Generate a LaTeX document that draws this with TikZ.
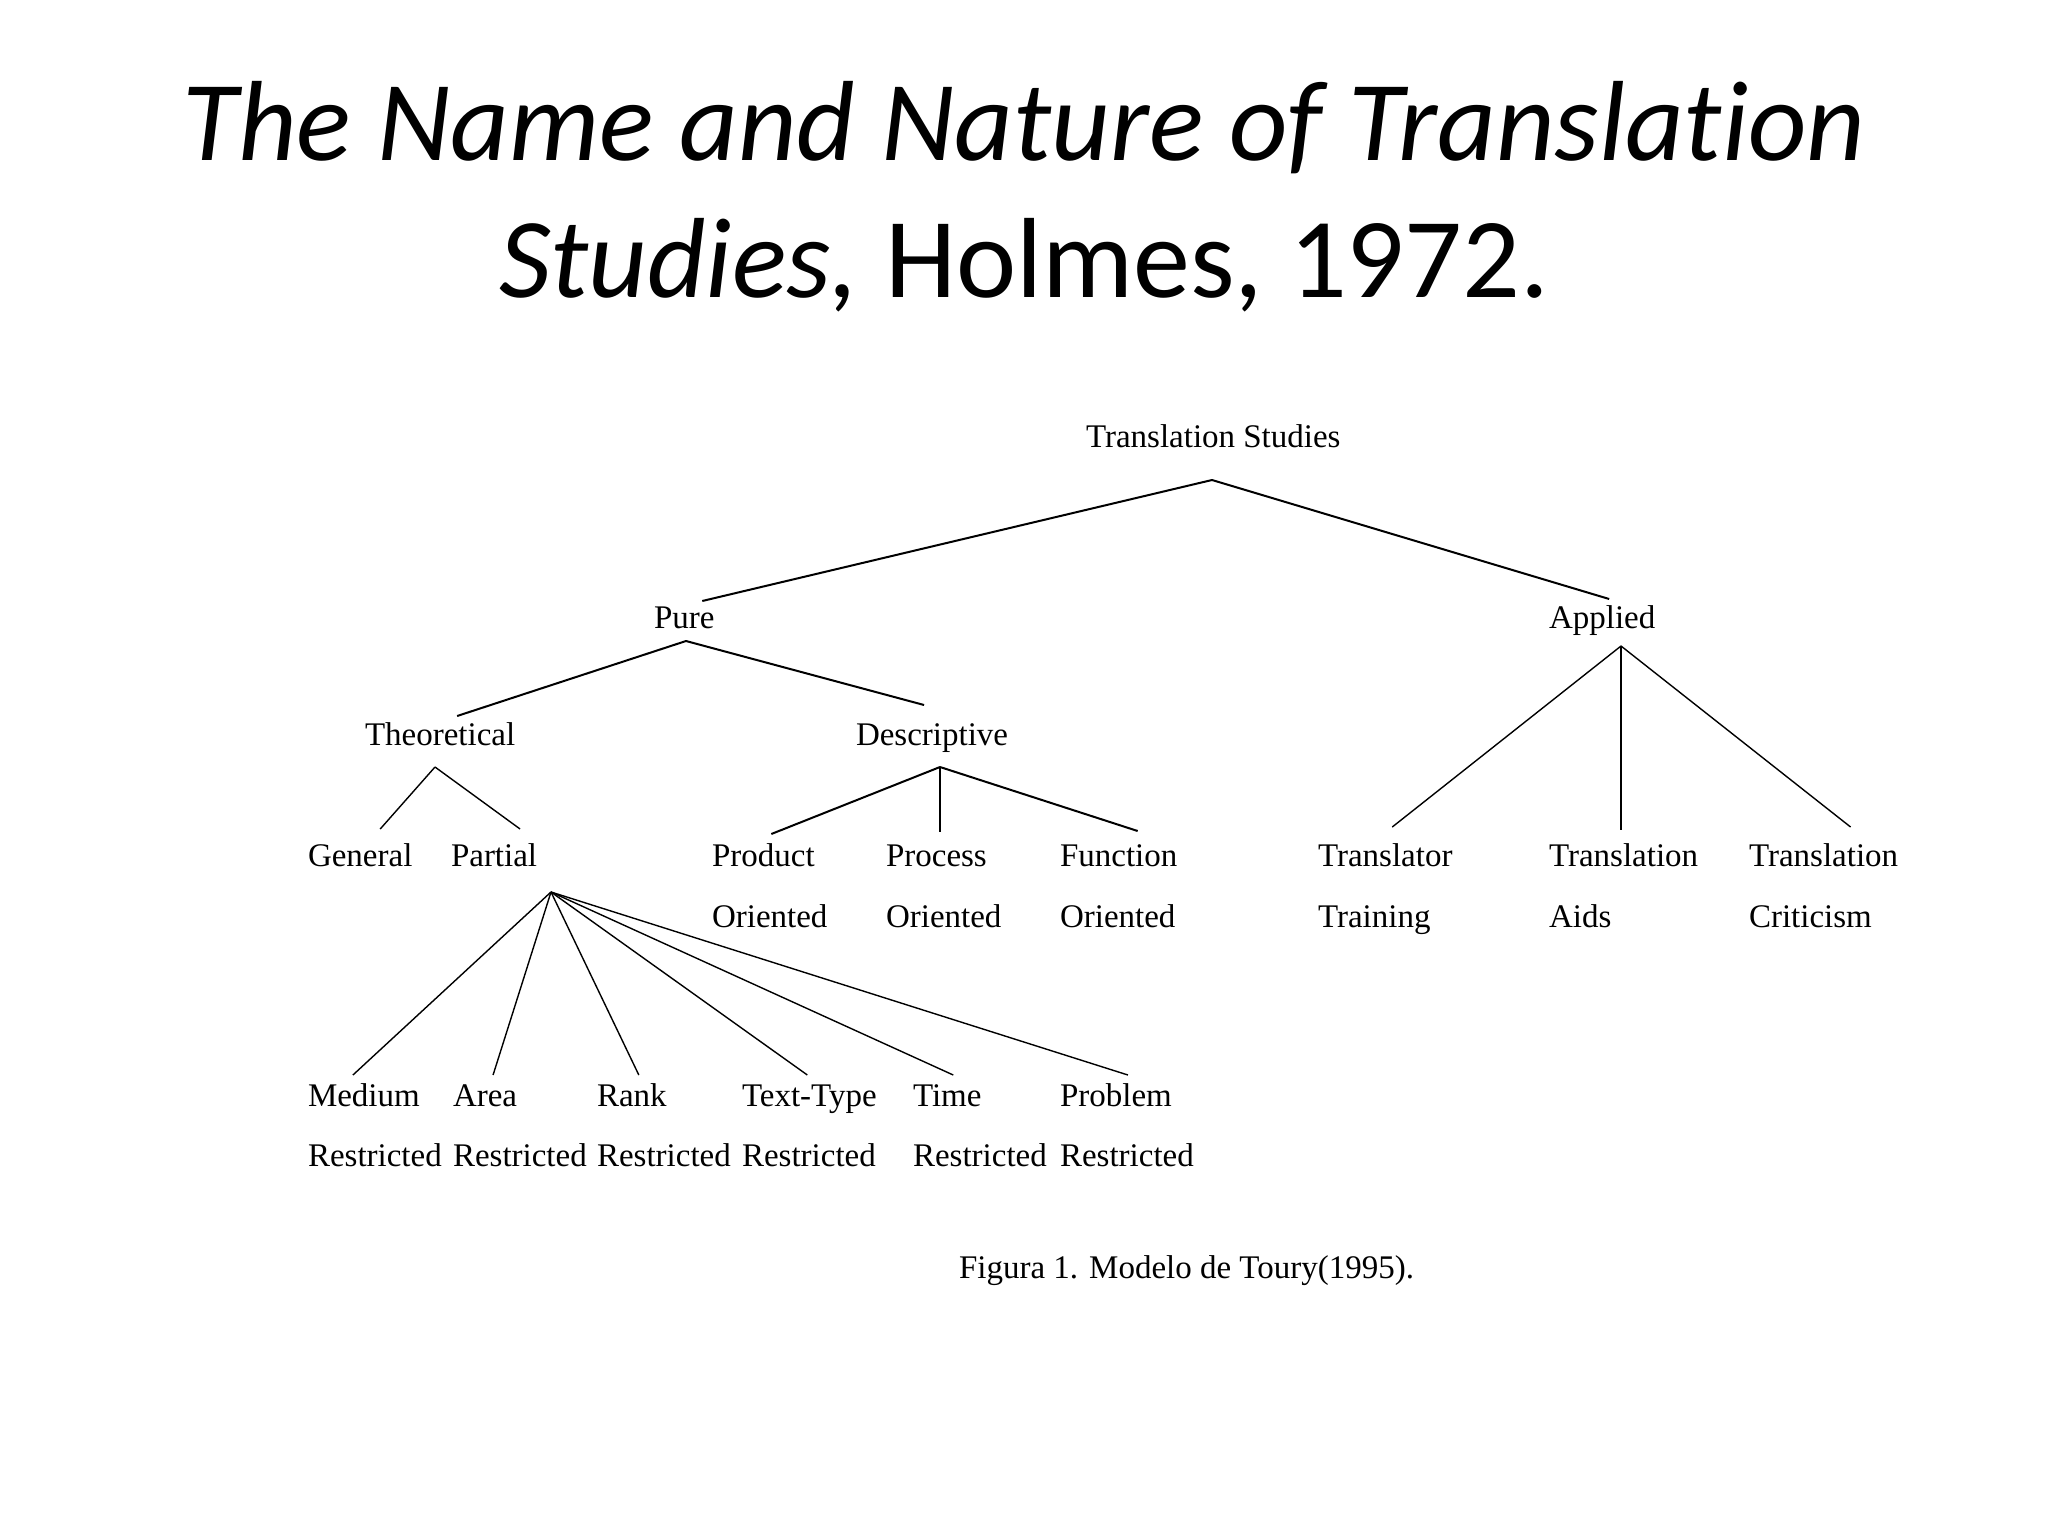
\documentclass[tikz,border=0pt]{standalone}
\usepackage{fontspec}
\setmainfont{Liberation Serif}
\newfontfamily\slidefont[Ligatures=NoCommon]{Carlito}
\usetikzlibrary{calc}

\begin{document}
\begin{tikzpicture}[x=0.5pt, y=-0.5pt, line width=1pt,
    heading/.style={anchor=base, inner sep=0pt, font=\slidefont\fontsize{57}{70}\selectfont},
    term/.style={anchor=base west, inner sep=0pt, text height=11pt, text depth=0pt, font=\fontsize{16.5}{20}\selectfont},
    branch/.style={line width=1pt},
    twig/.style={line width=0.7pt}]

    \useasboundingbox (0,0) rectangle (2048,1536);

    % === Slide title ===
    \node[heading] (title1) at (1024,160) {\itshape The Name and Nature of Translation};
    \node[heading] (title2) at (1024,297) {{\itshape Studies,} Holmes, 1972.};

    % === Root ===
    \node[term] (ts) at (1085,447) {Translation Studies};
    \coordinate (tsfork) at (1212,480);

    % === Pure / Applied ===
    \node[term] (pure) at (653,628) {Pure};
    \node[term] (applied) at (1548,628) {Applied};
    \draw[branch] (tsfork) -- ($(pure.north)+(18,-4)$);
    \draw[branch] (tsfork) -- ($(applied.north)+(7,-6)$);

    % === Theoretical / Descriptive ===
    \coordinate (purefork) at (686,641);
    \node[term] (theo) at (364,745) {Theoretical};
    \node[term] (desc) at (855,745) {Descriptive};
    \draw[branch] (purefork) -- ($(theo.north)+(17,-6)$);
    \draw[branch] (purefork) -- ($(desc.north)+(-8,-17)$);

    % === Third row (two lines each) ===
    \node[term] (general) at (307,866) {General};
    \node[term] (partial) at (450,866) {Partial};
    \node[term] (product) at (711,866) {Product};
    \node[term] (product2) at (711,927) {Oriented};
    \node[term] (process) at (885,866) {Process};
    \node[term] (process2) at (885,927) {Oriented};
    \node[term] (function) at (1059,866) {Function};
    \node[term] (function2) at (1059,927) {Oriented};
    \node[term] (training) at (1317,866) {Translator};
    \node[term] (training2) at (1317,927) {Training};
    \node[term] (aids) at (1548,866) {Translation};
    \node[term] (aids2) at (1548,927) {Aids};
    \node[term] (critic) at (1748,866) {Translation};
    \node[term] (critic2) at (1748,927) {Criticism};

    \coordinate (theofork) at (435,767);
    \draw[twig] (theofork) -- ($(general.north)+(20,-14)$);
    \draw[twig] (theofork) -- ($(partial.north)+(26,-14)$);

    \coordinate (descfork) at (940,767);
    \draw[branch] (descfork) -- ($(product.north)+(8,-9)$);
    \draw[twig] (descfork) -- ($(descfork |- process.north)+(0,-11)$);
    \draw[branch] (descfork) -- ($(function.north)+(19,-12)$);

    \coordinate (appfork) at (1621,646);
    \draw[twig] (appfork) -- ($(training.north)+(7,-16)$);
    \draw[branch] (appfork) -- ($(appfork |- aids.north)+(0,-13)$);
    \draw[twig] (appfork) -- ($(critic.north)+(27,-16)$);

    % === Partial: restricted theories ===
    \node[term] (medium) at (307,1106) {Medium};
    \node[term] (area) at (452,1106) {Area};
    \node[term] (rank) at (596,1106) {Rank};
    \node[term] (texttype) at (741,1106) {Text-Type};
    \node[term] (time) at (912,1106) {Time};
    \node[term] (problem) at (1059,1106) {Problem};
    \foreach \leaf/\xpos in {medium/307, area/452, rank/596, texttype/741, time/912, problem/1059}
        \node[term] (\leaf2) at (\xpos,1166) {Restricted};

    \coordinate (partfork) at (551,892);
    \foreach \leaf/\dx in {medium/-11, area/8, rank/7, texttype/-2, time/6, problem/12}
        \draw[twig] (partfork) -- ($(\leaf.north)+(\dx,-8)$);

    % === Caption ===
    \node[term] (caption) at (958,1278) {Figura 1. Modelo de Toury(1995).};

\end{tikzpicture}
\end{document}
